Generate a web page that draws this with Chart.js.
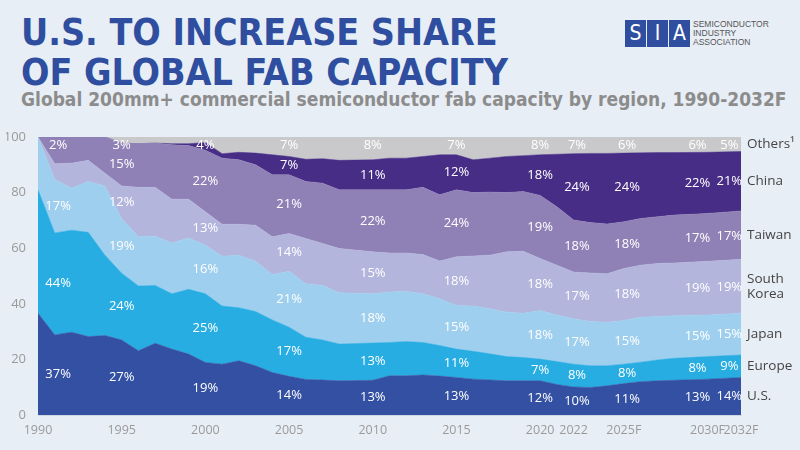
<!DOCTYPE html>
<html><head><meta charset="utf-8">
<script src="https://cdn.jsdelivr.net/npm/chart.js@4"></script>
<style>
body{margin:0;background:#e8eef6;width:800px;height:450px;overflow:hidden;position:relative;font-family:"Open Sans",sans-serif}
#t{position:absolute;left:21px;top:12px;color:#2f4e9f;font:bold 38px/40px "DejaVu Sans Condensed","DejaVu Sans",sans-serif;transform:scaleX(0.98);transform-origin:left top;white-space:nowrap}
#s{position:absolute;left:21px;top:88px;color:#8c8c8c;font:bold 19px "DejaVu Sans Condensed",sans-serif}
#logo{position:absolute;left:625px;top:20px;display:flex}
#logo .b{display:flex;background:#2f4e9f;height:27px}
#logo .b span{color:#fff;font:21px "DejaVu Sans Condensed";width:21px;text-align:center;line-height:27px;border-right:1px solid #e8eef6}
#logo .b span:last-child{border-right:none}
#logo .n{font:8.5px/9px "Liberation Sans";color:#555;margin-left:3px;margin-top:0}
canvas{position:absolute;left:0;top:0}
</style></head><body>
<div id="t">U.S. TO INCREASE SHARE<br>OF GLOBAL FAB CAPACITY</div>
<div id="s">Global 200mm+ commercial semiconductor fab capacity by region, 1990-2032F</div>
<div id="logo"><div class="b"><span>S</span><span>I</span><span>A</span></div><div class="n">SEMICONDUCTOR<br>INDUSTRY<br>ASSOCIATION</div></div>
<canvas id="c" width="800" height="450"></canvas>
<script>
const years=[1990,1991,1992,1993,1994,1995,1996,1997,1998,1999,2000,2001,2002,2003,2004,2005,2006,2007,2008,2010,2011,2012,2013,2014,2015,2016,2017,2018,2019,2020,2021,2022,2023,2024,2025,2026,2027,2028,2030,2032];
const us=    [36.6,28.8,29.8,28.2,28.6,27,23.1,25.8,23.7,21.9,18.9,18.3,19.5,17.7,15.3,13.9,12.8,12.6,12.3,12.5,14.1,14.1,14.4,14,13.5,12.9,12.6,12.3,12.3,12.3,11,10.1,9.9,10.5,11.3,12,12.3,12.5,12.9,13.5];
const europe=[44.4,36.7,36.7,37.5,28.9,24,23.3,20.8,19.9,23.3,24.7,20.9,19.1,19.5,18.9,17.7,15.2,14.4,13.2,13.4,12,12.3,11.7,11,10.2,10,9.4,8.7,8.4,7.8,8.2,8.2,7.8,7.2,7,7,7.5,7.9,8.1,8.1];
const japan= [19,19.3,15.1,18.3,24.9,19.7,17.7,17.7,18.3,18.5,17.5,17.9,18.9,18.1,16.3,20.1,19.2,19.6,18.5,17.7,18.1,18.1,17.5,16.8,15.7,16.3,16.2,16,15.9,17.5,16.8,16.3,15.9,15.7,15.7,16.2,15.6,15.3,15,15];
const korea= [0,5.6,9,7.6,4.6,11.7,17.8,17.6,15.7,13.9,12,11.5,11.1,13,13.6,13.6,16.3,15.1,15.9,15.1,14.1,13.8,14.1,13.6,17.5,18,19.3,21.7,22.3,18.7,17.9,16.8,17.5,17.4,18.7,18.7,19.1,19,19.3,19.4];
const taiwan=[0,9.6,9.4,8.4,13,15.4,15.7,15.9,19.6,19.3,22.1,23.8,23.2,21.7,22.3,21.1,20.5,21.7,21.1,22.3,22.7,22.7,24.2,23.8,24.1,22.8,22.7,21.3,21.5,22.7,21,18.7,18.1,17.9,16.8,16.8,16.8,17.2,17.2,17.4];
const china= [0,0,0,0,0,0,0,0,0.4,0.7,2.8,1.6,2.7,4.2,7.2,6.6,8,8.8,10.6,10.8,11.4,11.4,11.1,14.4,12.6,11.8,12.2,13,12.9,14.6,18.9,23.9,24.9,25.4,24.7,23.6,23.1,22.5,22,21.4];
const others=[0,0,0,0,0,2.2,2.4,2.2,2.4,2.4,2,6,5.5,5.8,6.4,7,8,7.8,8.4,8.2,7.6,7.6,7,6.4,6.4,8.2,7.6,7,6.7,6.4,6.2,6,5.9,5.9,5.8,5.7,5.6,5.6,5.5,5.2];
const seriesNames=["U.S.","Europe","Japan","South\nKorea","Taiwan","China","Others¹"];
const colors=["#3350a2","#27ade2","#9fcfee","#b3b5dc","#8f80b6","#472d86","#c9c9cb"];
const tickYears=[1990,1995,2000,2005,2010,2015,2020,2022,2025,2030,2032];
const tickLabels=["1990","1995","2000","2005","2010","2015","2020","2022","2025F","2030F","2032F"];
const labelYears=[1991.2,1995,2000,2005,2010,2015,2020,2022.2,2025.2,2029.4,2031.3];
const labelVals=[
 [37,44,17,null,2,null,null],
 [27,24,19,12,15,null,3],
 [19,25,16,13,22,null,4],
 [14,17,21,14,21,7,7],
 [13,13,18,15,22,11,8],
 [13,11,15,18,24,12,7],
 [12,7,18,18,19,18,8],
 [10,8,17,17,18,24,7],
 [11,8,15,18,18,24,6],
 [13,8,15,19,17,22,6],
 [14,9,15,19,17,21,5]];
const all=[us,europe,japan,korea,taiwan,china,others];
function interp(arr,x){for(let i=0;i<years.length-1;i++){if(x>=years[i]&&x<=years[i+1]){const t=(x-years[i])/(years[i+1]-years[i]);return arr[i]+t*(arr[i+1]-arr[i]);}}return arr[arr.length-1];}
function band(si,x){let b=0;for(let k=0;k<si;k++)b+=interp(all[k],x);return [b,b+interp(all[si],x)];}
const labelsPlugin={id:'lbl',afterDatasetsDraw(ch){
 const c=ch.ctx,xs=ch.scales.x,ys=ch.scales.y;c.save();c.textAlign='center';c.textBaseline='middle';
 c.font='13px "Open Sans"';c.fillStyle='#fff';
 labelYears.forEach((yr,ci)=>{labelVals[ci].forEach((v,si)=>{if(v==null)return;const [a,b]=band(si,yr);
  let mid=(a+b)/2; if(si===6){mid=97;}
  if(ci===0&&si===4)mid=97;
  c.fillText(v+'%',xs.getPixelForValue(yr),ys.getPixelForValue(mid));});});
 c.textAlign='left';c.fillStyle='#444';c.font='13.5px "Open Sans"';
 seriesNames.forEach((n,si)=>{const [a,b]=band(si,2032);let mid=(a+b)/2;if(si===6)mid=97.3;
  const lines=n.split('\n');const x=xs.right+6;
  lines.forEach((l,li)=>c.fillText(l,x,ys.getPixelForValue(mid)+(li-(lines.length-1)/2)*15));});
 c.restore();}};
new Chart(document.getElementById('c'),{type:'line',
 data:{labels:years,datasets:all.map((d,i)=>({label:seriesNames[i],data:d.map((v,j)=>({x:years[j],y:v})),
  backgroundColor:colors[i],borderColor:colors[i],borderWidth:0.5,pointRadius:0,fill:i===0?'origin':'-1',tension:0}))},
 options:{responsive:false,animation:false,
  layout:{padding:{left:6,right:59,top:137,bottom:12}},
  plugins:{legend:{display:false},tooltip:{enabled:false}},
  scales:{
   x:{type:'linear',min:1990,max:2032,grid:{display:false},border:{color:'#cfd6e0'},
    afterBuildTicks:s=>{s.ticks=tickYears.map(v=>({value:v}));},
    ticks:{autoSkip:false,maxRotation:0,color:'#9a9a9a',font:{family:'Open Sans',size:12.5},padding:0,callback:(v)=>tickLabels[tickYears.indexOf(v)]}},
   y:{stacked:true,min:0,max:100,grid:{display:false},border:{display:false},
    ticks:{stepSize:20,color:'#9a9a9a',font:{family:'Open Sans',size:13},padding:4},afterFit:s=>{s.width=32;}}}},
 plugins:[labelsPlugin]});
</script></body></html>
